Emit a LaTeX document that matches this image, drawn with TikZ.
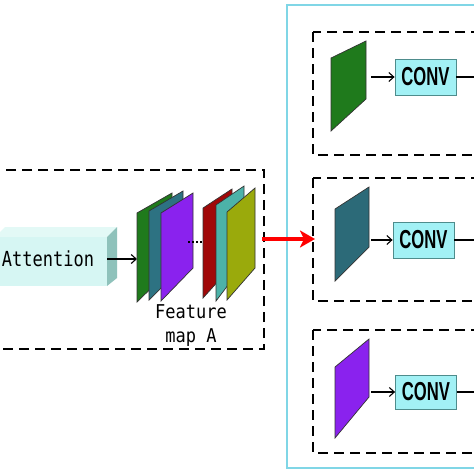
\documentclass[tikz,border=0pt]{standalone}
\usepackage{fontspec}
\usetikzlibrary{arrows.meta}
\newfontfamily\monof{DejaVu Sans Mono}
\newfontfamily\convf{Liberation Sans}
\definecolor{fgreen}{HTML}{1F7A1C}
\definecolor{fteal}{HTML}{2D7282}
\definecolor{fpurple}{HTML}{8A22EE}
\definecolor{fred}{HTML}{A00808}
\definecolor{fteall}{HTML}{4CB2A8}
\definecolor{folive}{HTML}{9AAA0C}
\definecolor{rteal}{HTML}{2C6A78}
\definecolor{attfront}{HTML}{D6F6F3}
\definecolor{atttop}{HTML}{E3F9F6}
\definecolor{attside}{HTML}{8FC2BB}
\definecolor{convfill}{HTML}{A2F1F5}
\definecolor{convedge}{HTML}{4E8C8C}
\definecolor{cyanline}{HTML}{80D6E6}
\tikzset{
  fm/.style={draw=black!80, line width=0.7pt, line join=miter},
  dbox/.style={draw=black, line width=2.2pt, dash pattern=on 10pt off 6pt},
  blkarrow/.style={draw=black, line width=1.1pt, -{Straight Barb[length=5pt,width=9pt,line width=1.1pt]}},
  monotext/.style={font=\monof\fontsize{17}{20}\selectfont, inner sep=0pt, anchor=base},
  conv/.style={draw=convedge, fill=convfill, line width=0.8pt, inner sep=0pt,
    minimum width=61pt, minimum height=36pt, font=\convf\fontsize{26}{28}\selectfont},
}
\newcommand\vstretch[2]{\scalebox{1}[#1]{#2}}
\newcommand\cnv{\scalebox{0.64}[1]{\textbf{CONV}}}
\begin{document}
\begin{tikzpicture}[x=1pt,y=-1pt]
\useasboundingbox (0,0) rectangle (474,474);
\clip (0,0) rectangle (474,474);
\fill[white] (0,0) rectangle (474,474);

% left dashed box
\draw[dbox] (-10,170) rectangle (264,349);

% attention 3D box
\fill[atttop] (-5,237) -- (107,237) -- (117,227) -- (5,227) -- cycle;
\fill[attside] (107,237) -- (117,227) -- (117,278) -- (107,286) -- cycle;
\fill[attfront] (-5,237) rectangle (107,286);
\node[monotext] (att) at (48,266) {\vstretch{1.22}{Attention}};
\coordinate (attR) at (107,259);
\coordinate (fmL) at (137,259);
\draw[blkarrow] (attR) -- (fmL);

% feature maps group 1
\filldraw[fm, fill=fgreen] (137,213) -- (172,193) -- (172,268) -- (137,302) -- cycle;
\filldraw[fm, fill=fteal] (149,211) -- (183,191) -- (183,266) -- (149,300) -- cycle;
\filldraw[fm, fill=fpurple] (161,213) -- (193,193) -- (193,268) -- (161,301) -- cycle;
% dots
\coordinate (dotA) at (188,242);
\coordinate (dotB) at (204,242);
\draw[black, line width=1.2pt, dash pattern=on 1.5pt off 2.5pt] (dotA) -- (dotB);
% feature maps group 2
\filldraw[fm, fill=fred] (203,208) -- (232,189) -- (232,266) -- (203,298) -- cycle;
\filldraw[fm, fill=fteall] (216,205) -- (244,186) -- (244,264) -- (216,301) -- cycle;
\filldraw[fm, fill=folive] (227,212) -- (255,188) -- (255,268) -- (227,300) -- cycle;

\node[monotext] (feat1) at (191,318) {\vstretch{1.12}{Feature}};
\node[monotext] (feat2) at (191,342) {\vstretch{1.12}{map A}};

% right cyan frame
\draw[cyanline, line width=1.5pt] (287,5) rectangle (490,468);

% red arrow
\coordinate (redA) at (262,239);
\coordinate (redB) at (315,239);
\draw[red, line width=4pt, -{Stealth[length=15pt,width=17pt,inset=4pt]}] (redA) -- (redB);

% inner dashed boxes
\draw[dbox] (313,32) rectangle (490,155);
\draw[dbox] (313,178) rectangle (490,301);
\draw[dbox] (313,330) rectangle (490,453);

% right column maps
\filldraw[fm, fill=fgreen] (331,58) -- (366,41) -- (366,99) -- (331,131) -- cycle;
\filldraw[fm, fill=rteal] (335,209) -- (369,187) -- (369,247) -- (335,281) -- cycle;
\filldraw[fm, fill=fpurple] (335,367) -- (369,339) -- (369,397) -- (335,438) -- cycle;

\node[conv] (c1) at (425.5,77) {\cnv};
\node[conv] (c2) at (423.5,240) {\cnv};
\node[conv, minimum height=34pt] (c3) at (426,392) {\cnv};

\coordinate (p1) at (371,77);
\coordinate (p2) at (371,240);
\coordinate (p3) at (371,392);
\draw[blkarrow] (p1) -- (c1.west);
\draw[blkarrow] (p2) -- (c2.west);
\draw[blkarrow] (p3) -- (c3.west);

\coordinate (o1) at (480,77);
\coordinate (o2) at (480,240);
\coordinate (o3) at (480,392);
\draw[black, line width=1.1pt] (c1.east) -- (o1);
\draw[black, line width=1.1pt] (c2.east) -- (o2);
\draw[black, line width=1.1pt] (c3.east) -- (o3);
\end{tikzpicture}
\end{document}
